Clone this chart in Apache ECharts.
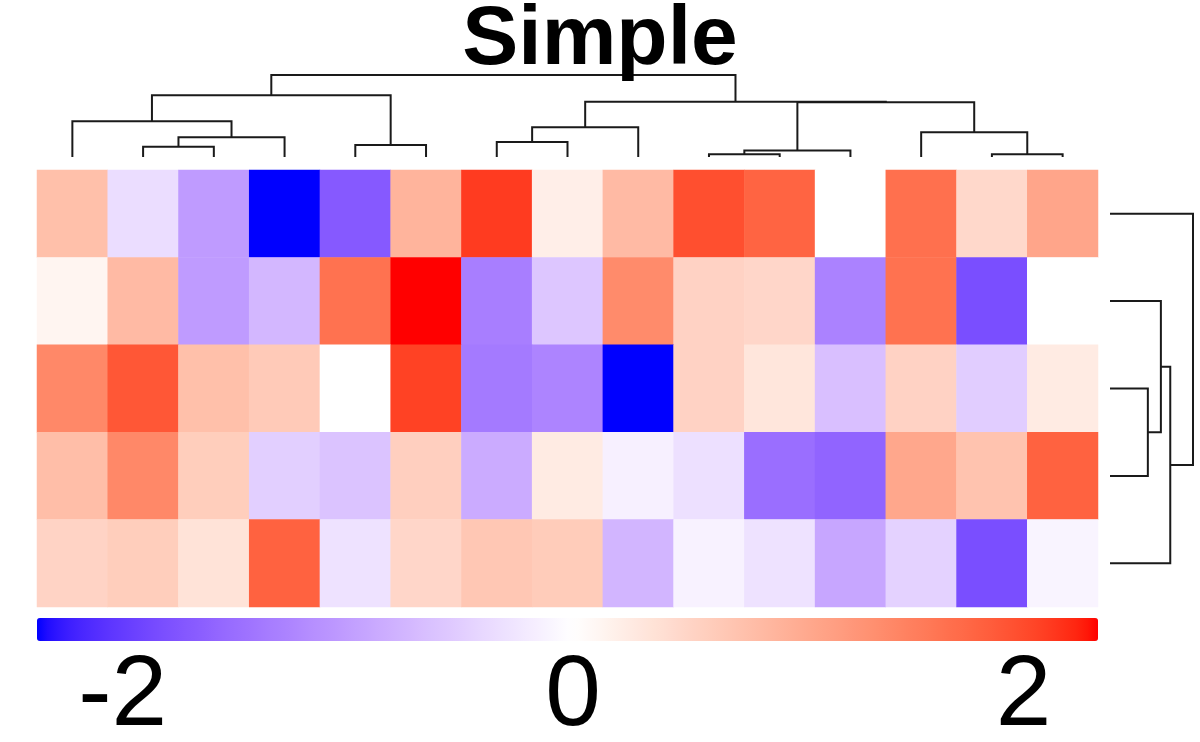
<!DOCTYPE html>
<html>
<head>
<meta charset="utf-8">
<title>Simple</title>
<script src="https://cdn.jsdelivr.net/npm/echarts@6/dist/echarts.min.js"></script>
<style>
  html, body { margin: 0; padding: 0; background: #fff; }
  #chart { width: 1200px; height: 742px; }
</style>
</head>
<body>
<div id="chart"></div>
<script>
// matrix already in dendrogram order, rows top to bottom
var rowNames = ['r1', 'r2', 'r3', 'r4', 'r5'];
var colNames = ['c1', 'c2', 'c3', 'c4', 'c5', 'c6', 'c7', 'c8', 'c9', 'c10', 'c11', 'c12', 'c13', 'c14', 'c15'];
var row1 = [0.77, -0.35, -1.02, -2.38, -1.71, 0.91, 2.11, 0.21, 0.83, 1.97, 1.78, 0.0, 1.67, 0.47, 1.08];
var row2 = [0.12, 0.83, -1.02, -0.73, 1.65, 2.33, -1.33, -0.58, 1.38, 0.54, 0.49, -1.29, 1.65, -1.82, 0.0];
var row3 = [1.41, 1.90, 0.77, 0.64, 0.0, 2.07, -1.37, -1.27, -2.38, 0.54, 0.31, -0.65, 0.54, -0.51, 0.25];
var row4 = [0.79, 1.41, 0.60, -0.49, -0.61, 0.58, -0.85, 0.25, -0.15, -0.32, -1.50, -1.60, 1.06, 0.73, 1.80];
var row5 = [0.53, 0.60, 0.35, 1.80, -0.30, 0.49, 0.68, 0.62, -0.75, -0.13, -0.30, -0.91, -0.46, -1.82, -0.11];
var rows = [row1, row2, row3, row4, row5];

// hclust style merges: negative = leaf (1-based position), positive = earlier merge
var colMerge = [[-10, -11], [-14, -15], [1, -12], [-2, -3], [-5, -6], [-7, -8], [4, -4],
                [-13, 2], [6, -9], [-1, 7], [3, 8], [9, 11], [10, 5], [13, 12]];
var colHeight = [0.33, 0.33, 0.80, 1.26, 1.45, 1.83, 2.41, 3.02, 3.63, 4.36, 6.68, 6.73, 7.54, 10];
var rowMerge = [[-3, -4], [-2, 1], [2, -5], [-1, 3]];
var rowHeight = [4.56, 6.13, 7.26, 10];

var colorMin = -2.38, colorMax = 2.33;
var legendTicks = [-2, 0, 2];

// blue - white - red ramp interpolated in Lab space
function toLab(hex) {
  var c = [1, 3, 5].map(function (i) {
    var v = parseInt(hex.substr(i, 2), 16) / 255;
    return v <= 0.04045 ? v / 12.92 : Math.pow((v + 0.055) / 1.055, 2.4);
  });
  var x = (0.4124564 * c[0] + 0.3575761 * c[1] + 0.1804375 * c[2]) / 0.95047;
  var y = 0.2126729 * c[0] + 0.7151522 * c[1] + 0.0721750 * c[2];
  var z = (0.0193339 * c[0] + 0.1191920 * c[1] + 0.9503041 * c[2]) / 1.08883;
  var f = function (t) { return t > 0.008856 ? Math.cbrt(t) : 7.787 * t + 16 / 116; };
  return [116 * f(y) - 16, 500 * (f(x) - f(y)), 200 * (f(y) - f(z))];
}
function fromLab(lab) {
  var fy = (lab[0] + 16) / 116, fx = fy + lab[1] / 500, fz = fy - lab[2] / 200;
  var g = function (t) { return t * t * t > 0.008856 ? t * t * t : (t - 16 / 116) / 7.787; };
  var x = g(fx) * 0.95047, y = g(fy), z = g(fz) * 1.08883;
  var rgb = [
    3.2404542 * x - 1.5371385 * y - 0.4985314 * z,
    -0.9692660 * x + 1.8760108 * y + 0.0415560 * z,
    0.0556434 * x - 0.2040259 * y + 1.0572252 * z
  ].map(function (v) {
    v = Math.max(0, Math.min(1, v));
    v = v <= 0.0031308 ? 12.92 * v : 1.055 * Math.pow(v, 1 / 2.4) - 0.055;
    return Math.round(v * 255);
  });
  return 'rgb(' + rgb.join(',') + ')';
}
var blueLab = toLab('#0000FF'), whiteLab = toLab('#FFFFFF'), redLab = toLab('#FF0000');
function colorAt(v) {
  if (Math.abs(v) < 1e-3) return '#ffffff';
  var end = v < 0 ? blueLab : redLab;
  var t = v < 0 ? v / colorMin : v / colorMax;
  return fromLab(whiteLab.map(function (w, i) { return w + (end[i] - w) * t; }));
}
// 95 steps puts one stop right on zero
var rampColors = [];
for (var k = 0; k <= 95; k++) {
  rampColors.push(colorAt(colorMin + (colorMax - colorMin) * k / 95));
}

// elbow segments of a dendrogram
function dendroLines(merge, height, flip) {
  var pos = [], lines = [];
  function place(id) { return id < 0 ? { p: -id - 0.5, h: 0 } : pos[id - 1]; }
  merge.forEach(function (m, i) {
    var a = place(m[0]), b = place(m[1]), h = height[i];
    var pts = [[a.p, a.h], [a.p, h], [b.p, h], [b.p, b.h]];
    if (flip) pts = pts.map(function (q) { return [q[1], q[0]]; });
    lines.push({ coords: pts });
    pos.push({ p: (a.p + b.p) / 2, h: h });
  });
  return lines;
}

var cells = [];
rows.forEach(function (r, i) {
  r.forEach(function (v, j) { cells.push([j, i, v]); });
});

var hidden = { show: false };
var lineStyle = { color: '#1a1a1a', width: 2, opacity: 1 };

var chart = echarts.init(document.getElementById('chart'));
chart.setOption({
  backgroundColor: '#fff',
  animation: false,
  title: {
    text: 'Simple',
    left: 'center',
    top: -6,
    textStyle: { fontFamily: 'Liberation Sans', fontWeight: 'bold', fontSize: 84, color: '#000' }
  },
  grid: [
    { left: 37, top: 170, width: 1061, height: 437 },
    { left: 37, top: 75, width: 1061, height: 82 },
    { left: 1110, top: 170, width: 83, height: 437 },
    { left: 37, top: 618, width: 1061, height: 23 }
  ],
  xAxis: [
    { type: 'category', gridIndex: 0, data: colNames, show: false },
    { type: 'value', gridIndex: 1, min: 0, max: colNames.length, show: false },
    { type: 'value', gridIndex: 2, min: 0, max: 10, show: false },
    {
      type: 'value', gridIndex: 3, min: colorMin, max: colorMax,
      axisLine: hidden, axisTick: hidden, splitLine: hidden,
      axisLabel: {
        customValues: legendTicks, margin: 24,
        fontFamily: 'Liberation Sans', fontSize: 100, color: '#000'
      }
    }
  ],
  yAxis: [
    { type: 'category', gridIndex: 0, data: rowNames, inverse: true, show: false },
    { type: 'value', gridIndex: 1, min: 0, max: 10, show: false },
    { type: 'value', gridIndex: 2, min: 0, max: rowNames.length, inverse: true, show: false },
    { type: 'value', gridIndex: 3, show: false }
  ],
  visualMap: {
    type: 'continuous',
    min: colorMin,
    max: colorMax,
    seriesIndex: 0,
    orient: 'horizontal',
    left: 37,
    top: 618,
    padding: 0,
    itemWidth: 23,
    itemHeight: 1061,
    calculable: false,
    hoverLink: false,
    inRange: { color: rampColors }
  },
  series: [
    {
      type: 'heatmap',
      xAxisIndex: 0,
      yAxisIndex: 0,
      data: cells,
      itemStyle: { borderWidth: 0 },
      emphasis: { disabled: true }
    },
    {
      type: 'lines',
      coordinateSystem: 'cartesian2d',
      xAxisIndex: 1,
      yAxisIndex: 1,
      polyline: true,
      lineStyle: lineStyle,
      silent: true,
      data: dendroLines(colMerge, colHeight, false)
    },
    {
      type: 'lines',
      coordinateSystem: 'cartesian2d',
      xAxisIndex: 2,
      yAxisIndex: 2,
      polyline: true,
      lineStyle: lineStyle,
      silent: true,
      data: dendroLines(rowMerge, rowHeight, true)
    }
  ]
});
</script>
</body>
</html>
